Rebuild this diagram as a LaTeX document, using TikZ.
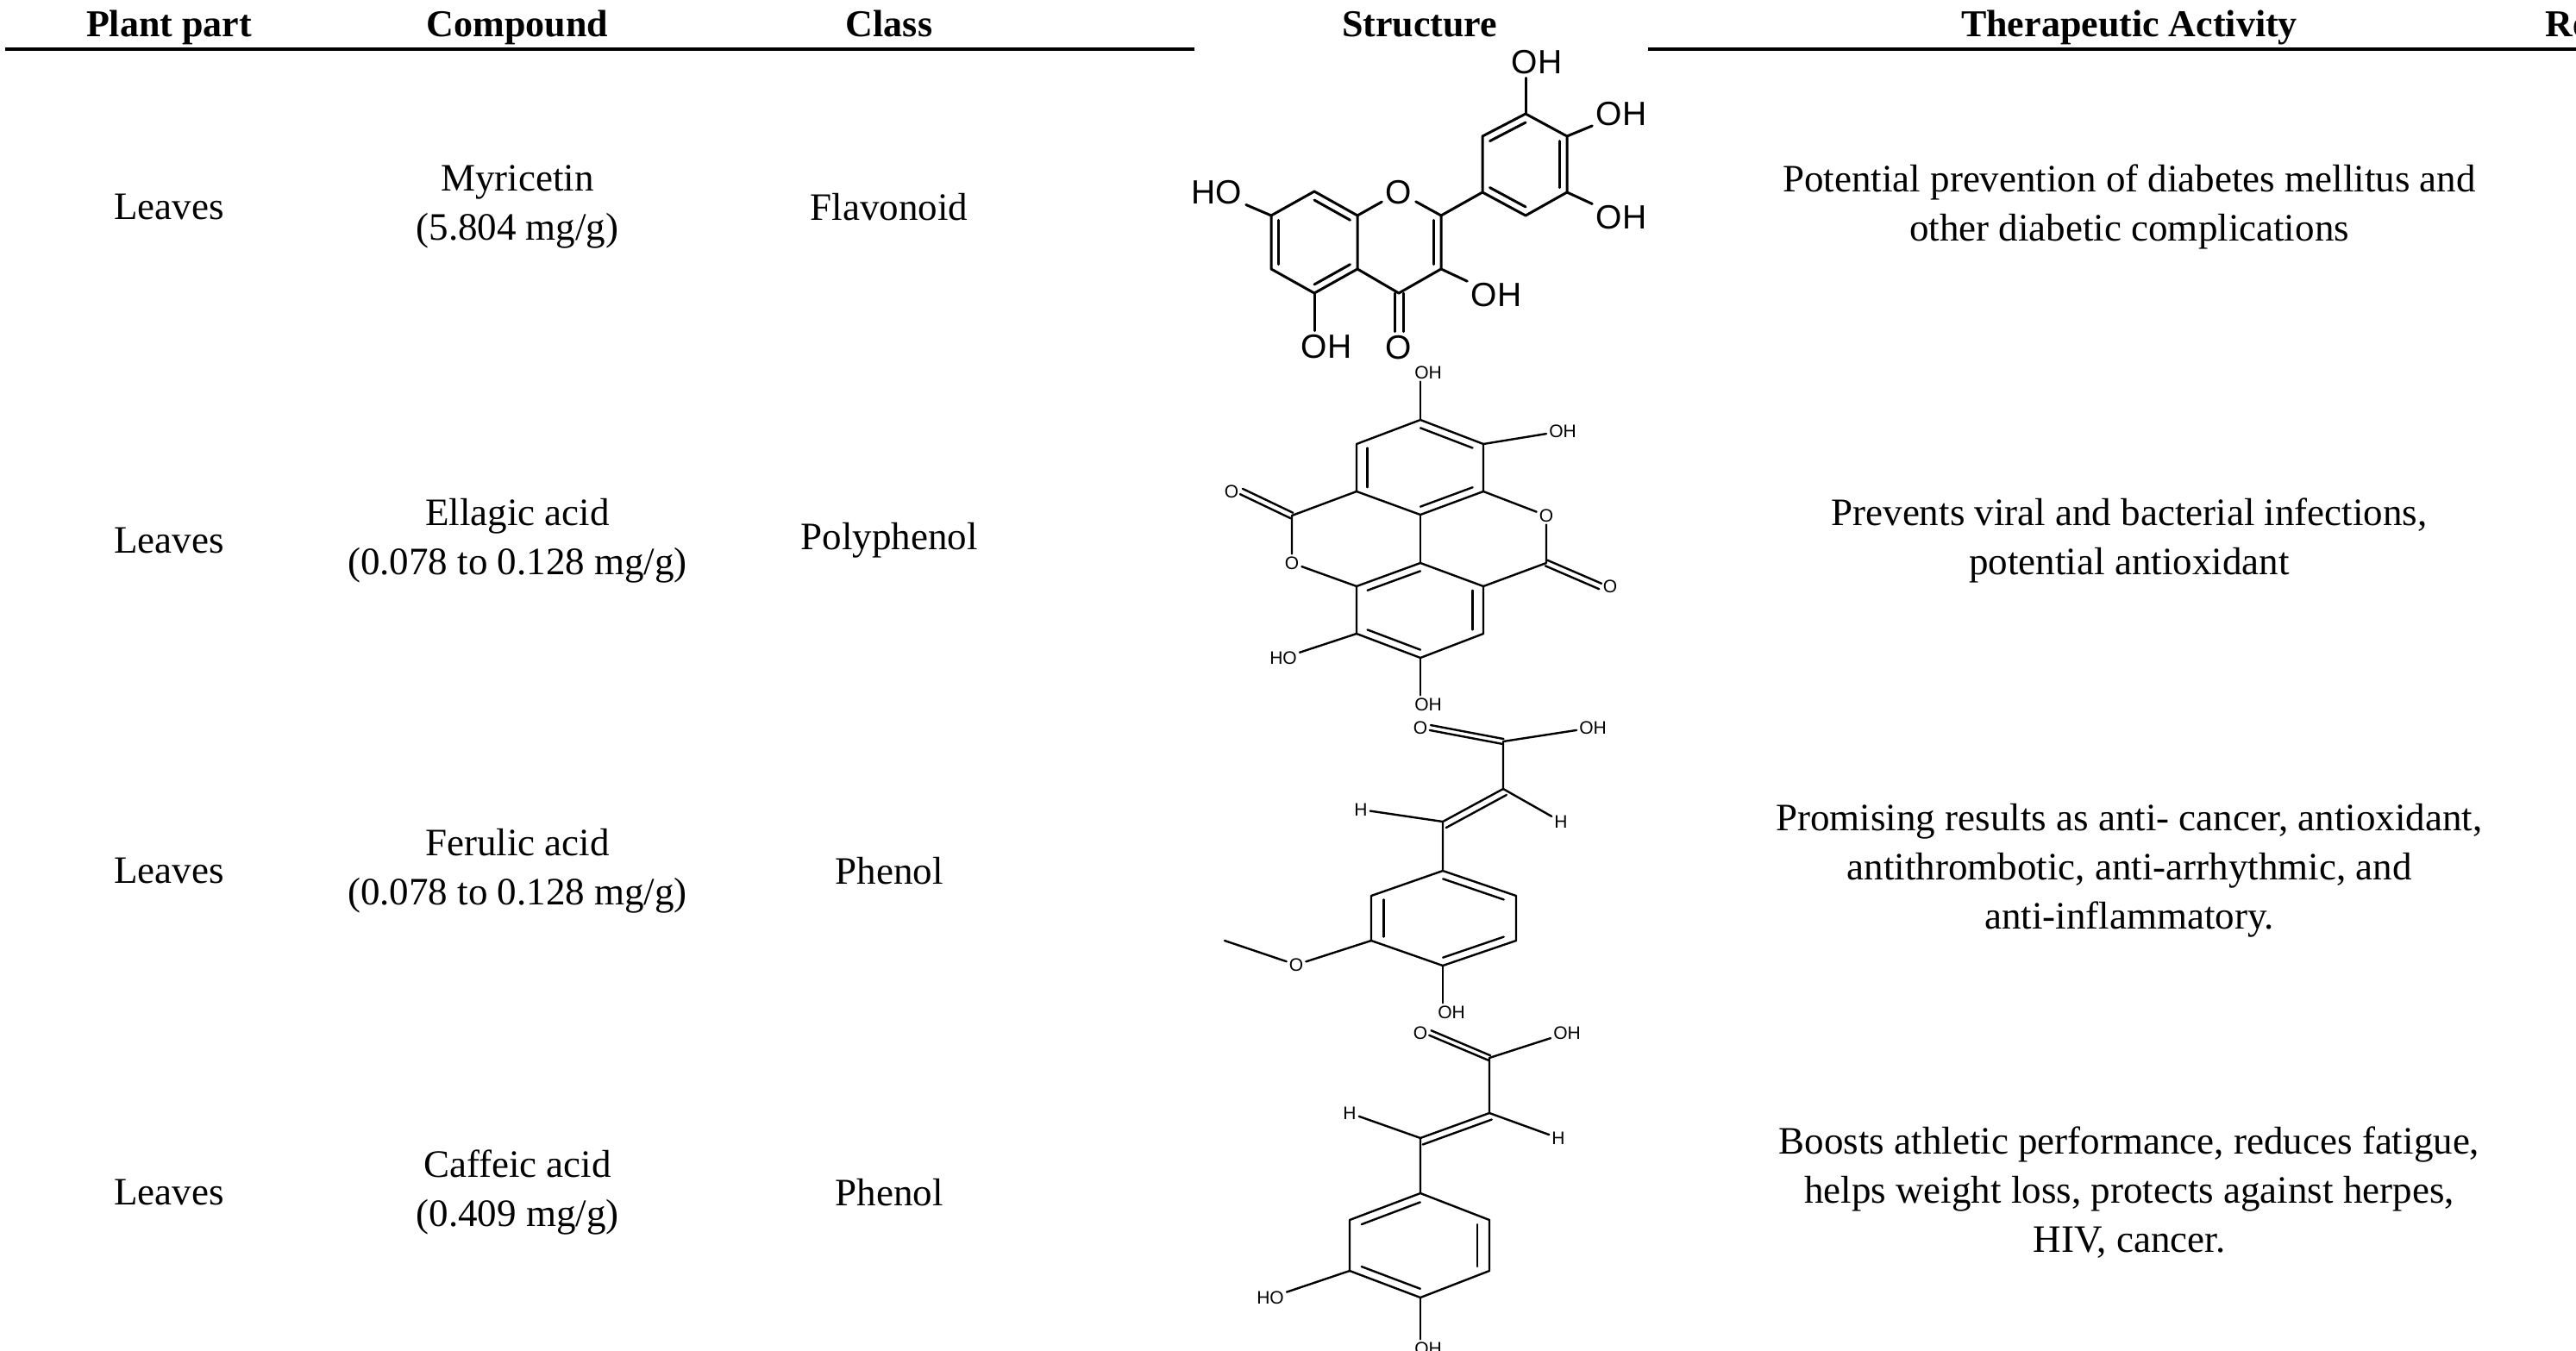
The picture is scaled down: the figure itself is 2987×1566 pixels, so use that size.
\documentclass[tikz,border=0pt]{standalone}
\usepackage{fontspec}
\setmainfont{Liberation Serif}
\newfontfamily\chemfont{Liberation Sans}
\usetikzlibrary{calc}
\begin{document}
\begin{tikzpicture}[x=1pt,y=-1pt,
  txt/.style={align=center,font=\fontsize{45}{57}\selectfont},
  hdr/.style={anchor=base,font=\fontsize{44}{57}\selectfont\bfseries},
  big/.style={font=\chemfont\fontsize{39}{39}\selectfont,inner sep=3pt},
  sm/.style={font=\chemfont\fontsize{21}{21}\selectfont,inner sep=2pt},
  bond/.style={line width=3pt,line cap=round,line join=round},
  thin/.style={line width=2.4pt,line cap=round,line join=round}]
\useasboundingbox (0,0) rectangle (2987,1566);
\clip (0,0) rectangle (2987,1566);
\newcommand{\inb}[3]{\draw ($(#1)!0.17!(#3)$) -- ($(#2)!0.17!(#3)$);}
\newcommand{\dbo}[3]{\draw ($(#1)!#3!90:(#2)$) -- ($(#2)!#3!-90:(#1)$);}
% headers
\node[hdr] (h1) at (196,42) {Plant part};
\node[hdr] (h2) at (600,42) {Compound};
\node[hdr] (h3) at (1031,42) {Class};
\node[hdr] (h4) at (1646,42) {Structure};
\node[hdr] (h5) at (2469,42) {Therapeutic Activity};
\node[hdr,anchor=base west] (h6) at (2948,42) {Reference};
\draw[line width=3.5pt] (6,57) -- (1385,57);
\draw[line width=3.5pt] (1911,57) -- (2987,57);
% rows
\node[txt] (p1) at (196,240) {Leaves};
\node[txt] (c1) at (600,240) {Myricetin\\(5.804 mg/g)};
\node[txt] (k1) at (1031,240) {Flavonoid};
\node[txt] (t1) at (2469,240) {Potential prevention of diabetes mellitus and\\other diabetic complications};
\node[txt] (p2) at (196,627) {Leaves};
\node[txt] (c2) at (600,627) {Ellagic acid\\(0.078 to 0.128 mg/g)};
\node[txt] (k2) at (1031,627) {Polyphenol};
\node[txt] (t2) at (2469,627) {Prevents viral and bacterial infections,\\potential antioxidant};
\node[txt] (p3) at (196,1010) {Leaves};
\node[txt] (c3) at (600,1010) {Ferulic acid\\(0.078 to 0.128 mg/g)};
\node[txt] (k3) at (1031,1010) {Phenol};
\node[txt] (t3) at (2469,1010) {Promising results as anti- cancer, antioxidant,\\antithrombotic, anti-arrhythmic, and\\anti-inflammatory.};
\node[txt] (p4) at (196,1383) {Leaves};
\node[txt] (c4) at (600,1383) {Caffeic acid\\(0.409 mg/g)};
\node[txt] (k4) at (1031,1383) {Phenol};
\node[txt] (t4) at (2469,1383) {Boosts athletic performance, reduces fatigue,\\helps weight loss, protects against herpes,\\HIV, cancer.};
% ---------- Myricetin ----------
\begin{scope}[bond]
\coordinate (m7) at (1474,250); \coordinate (m8) at (1524,222); \coordinate (m8a) at (1574,250);
\coordinate (m4a) at (1574,312); \coordinate (m5) at (1524,340); \coordinate (m6) at (1474,312);
\coordinate (m2) at (1671,250); \coordinate (m3) at (1671,312); \coordinate (m4) at (1622,340);
\coordinate (b1) at (1719,223); \coordinate (b2) at (1719,158); \coordinate (b3) at (1769,132);
\coordinate (b4) at (1817,158); \coordinate (b5) at (1817,223); \coordinate (b6) at (1769,250);
\coordinate (mA) at (1524,281); \coordinate (mC) at (1622,281); \coordinate (mB) at (1769,191);
\node[big] (mo1) at (1622,223) {O};
\node[big] (mo4) at (1622,403) {O};
\node[big] (moh3) at (1735,342) {OH};
\node[big] (moh5) at (1538,402) {OH};
\node[big] (moh7) at (1411,223) {HO};
\node[big] (mohb3) at (1782,72) {OH};
\node[big] (mohb4) at (1880,132) {OH};
\node[big] (mohb5) at (1880,252) {OH};
\draw (m8a) -- (m8) -- (m7) -- (m6) -- (m5) -- (m4a) -- (m8a);
\draw (m8a) -- (mo1) -- (m2) -- (m3) -- (m4) -- (m4a);
\draw (m2) -- (b1) -- (b2) -- (b3) -- (b4) -- (b5) -- (b6) -- (b1);
\inb{m7}{m6}{mA} \inb{m8}{m8a}{mA} \inb{m5}{m4a}{mA}
\inb{m2}{m3}{mC}
\inb{b2}{b3}{mB} \inb{b4}{b5}{mB} \inb{b6}{b1}{mB}
\draw ($(m4)+(-5,0)$) -- ($(mo4.north)+(-5,0)$);
\draw ($(m4)+(5,0)$) -- ($(mo4.north)+(5,0)$);
\draw (m3) -- (moh3); \draw (m5) -- (moh5.north -| m5); \draw (m7) -- (moh7);
\draw (b3) -- (mohb3.south -| b3); \draw (b4) -- (mohb4); \draw (b5) -- (mohb5);
\end{scope}
% ---------- Ellagic acid ----------
\begin{scope}[thin]
\coordinate (ea) at (1647,487); \coordinate (eb) at (1573,515); \coordinate (ec) at (1573,570);
\coordinate (ed) at (1647,597); \coordinate (ee) at (1720,570); \coordinate (ef) at (1720,515);
\coordinate (eg) at (1647,653); \coordinate (eh) at (1573,680); \coordinate (ei) at (1573,735);
\coordinate (ej) at (1647,763); \coordinate (ek) at (1720,735); \coordinate (el) at (1720,680);
\coordinate (ecl) at (1498,598); \coordinate (ecr) at (1793,653);
\coordinate (eT) at (1647,542); \coordinate (eB) at (1647,708);
\node[sm] (eoh1) at (1656,432) {OH};
\node[sm] (eoh2) at (1812,500) {OH};
\node[sm] (eol) at (1428,570) {O};
\node[sm] (eorl) at (1498,653) {O};
\node[sm] (eorr) at (1793,598) {O};
\node[sm] (eor) at (1867,680) {O};
\node[sm] (eoh3) at (1488,763) {HO};
\node[sm] (eoh4) at (1656,817) {OH};
\draw (ea) -- (eb) -- (ec) -- (ed) -- (ee) -- (ef) -- (ea);
\draw (eg) -- (eh) -- (ei) -- (ej) -- (ek) -- (el) -- (eg);
\draw (ed) -- (eg);
\draw (ec) -- (ecl) -- (eorl) -- (eh);
\draw (ee) -- (eorr) -- (ecr) -- (el);
\inb{ea}{ef}{eT} \inb{eb}{ec}{eT} \inb{ed}{ee}{eT}
\inb{eg}{eh}{eB} \inb{ei}{ej}{eB} \inb{ek}{el}{eB}
\draw ($(ecl)!3.5pt!90:(eol)$) -- ($(eol.east)!3.5pt!-90:(ecl)$);
\draw ($(ecl)!3.5pt!-90:(eol)$) -- ($(eol.east)!3.5pt!90:(ecl)$);
\draw ($(ecr)!3.5pt!90:(eor)$) -- ($(eor.west)!3.5pt!-90:(ecr)$);
\draw ($(ecr)!3.5pt!-90:(eor)$) -- ($(eor.west)!3.5pt!90:(ecr)$);
\draw (ea) -- (eoh1.south -| ea); \draw (ef) -- (eoh2);
\draw (ei) -- (eoh3); \draw (ej) -- (eoh4.north -| ej);
\end{scope}
% ---------- Ferulic acid ----------
\begin{scope}[thin]
\coordinate (fc) at (1743,860); \coordinate (fa) at (1743,915); \coordinate (fb) at (1673,953);
\coordinate (f1) at (1673,1010); \coordinate (f2) at (1758,1039); \coordinate (f3) at (1758,1091);
\coordinate (f4) at (1673,1120); \coordinate (f5) at (1590,1091); \coordinate (f6) at (1590,1039);
\coordinate (fme) at (1420,1091); \coordinate (fR) at (1674,1065);
\node[sm] (fo) at (1647,844) {O};
\node[sm] (foh) at (1847,844) {OH};
\node[sm] (fh1) at (1810,953) {H};
\node[sm] (fh2) at (1578,939) {H};
\node[sm] (fom) at (1503,1119) {O};
\node[sm] (foh2) at (1683,1174) {OH};
\draw (foh) -- (fc) -- (fa) -- (fb) -- (f1);
\draw ($(fc)!3pt!90:(fo)$) -- ($(fo.east)!3pt!-90:(fc)$);
\draw ($(fc)!3pt!-90:(fo)$) -- ($(fo.east)!3pt!90:(fc)$);
\dbo{fa}{fb}{8pt}
\draw (fa) -- (fh1); \draw (fb) -- (fh2);
\draw (f1) -- (f2) -- (f3) -- (f4) -- (f5) -- (f6) -- (f1);
\inb{f1}{f2}{fR} \inb{f3}{f4}{fR} \inb{f5}{f6}{fR}
\draw (f5) -- (fom) -- (fme);
\draw (f4) -- (foh2.north -| f4);
\end{scope}
% ---------- Caffeic acid ----------
\begin{scope}[thin]
\coordinate (gc) at (1727,1227); \coordinate (ga) at (1727,1291); \coordinate (gb) at (1647,1320);
\coordinate (g1) at (1647,1384); \coordinate (g2) at (1727,1415); \coordinate (g3) at (1727,1474);
\coordinate (g4) at (1647,1505); \coordinate (g5) at (1565,1474); \coordinate (g6) at (1565,1415);
\coordinate (gR) at (1646,1445);
\node[sm] (go) at (1647,1198) {O};
\node[sm] (goh) at (1817,1198) {OH};
\node[sm] (gh1) at (1807,1320) {H};
\node[sm] (gh2) at (1565,1291) {H};
\node[sm] (gho) at (1473,1505) {HO};
\node[sm] (goh2) at (1656,1564) {OH};
\draw (goh) -- (gc) -- (ga) -- (gb) -- (g1);
\draw ($(gc)!3pt!90:(go)$) -- ($(go.east)!3pt!-90:(gc)$);
\draw ($(gc)!3pt!-90:(go)$) -- ($(go.east)!3pt!90:(gc)$);
\dbo{ga}{gb}{8pt}
\draw (ga) -- (gh1); \draw (gb) -- (gh2);
\draw (g1) -- (g2) -- (g3) -- (g4) -- (g5) -- (g6) -- (g1);
\inb{g1}{g6}{gR} \inb{g2}{g3}{gR} \inb{g4}{g5}{gR}
\draw (g5) -- (gho);
\draw (g4) -- (goh2.north -| g4);
\end{scope}
\end{tikzpicture}
\end{document}
